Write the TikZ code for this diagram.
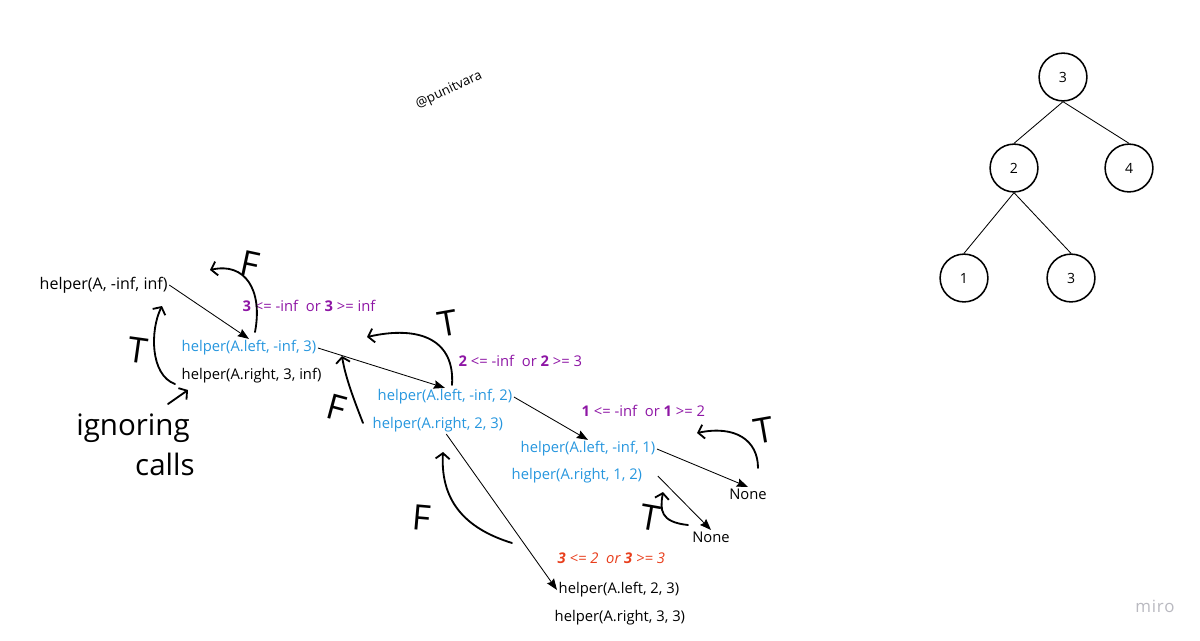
\documentclass[tikz,border=0pt]{standalone}
\usepackage{fontspec}
\setmainfont{Open Sans}
\usepackage{xcolor}
\usepackage{tikz}
\usetikzlibrary{arrows.meta, positioning}

\definecolor{condpurple}{RGB}{142,22,165}
\definecolor{callblue}{RGB}{38,150,222}
\definecolor{condred}{RGB}{232,62,28}
\definecolor{mirogray}{RGB}{185,185,192}

\begin{document}
\begin{tikzpicture}[
  x=0.025cm, y=-0.025cm,
  call/.style={font=\fontsize{10.5}{12}\selectfont, inner sep=1pt, anchor=west},
  leftcall/.style={call, text=callblue},
  cond/.style={call, text=condpurple},
  endcall/.style={font=\fontsize{10.5}{12}\selectfont, inner sep=1pt},
  link/.style={-{Stealth[length=8pt, width=6pt, inset=1pt]}, line width=0.6pt},
  hand/.style={line width=1.3pt, line cap=round, line join=round},
  handarrow/.style={hand, -{Straight Barb[length=4pt, width=10pt]}},
  handtext/.style={font=\fontsize{25}{25}\selectfont, inner sep=0pt},
  tnode/.style={circle, draw, line width=1.1pt, minimum size=34pt, inner sep=0pt, font=\fontsize{10}{12}\selectfont}
]
  \useasboundingbox (0,0) rectangle (1200,640);

  % Tag
  \node[font=\fontsize{9.5}{11}\selectfont, rotate=25] (tag) at (449,90) {@punitvara};

  % Calls, level by level
  \node[call, font=\fontsize{11.4}{13}\selectfont] (root) at (38,285) {helper(A, -inf, inf)};
  \node[cond] (c3) at (241,306) {\textbf{3} <= -inf\ \ or \textbf{3} >= inf};
  \node[leftcall] (lft3) at (180,348) {helper(A.left, -inf, 3)};
  \node[call] (rgt3) at (180,376) {helper(A.right, 3, inf)};

  \node[cond] (c2) at (457,361) {\textbf{2} <= -inf\ \ or \textbf{2} >= 3};
  \node[leftcall] (lft2) at (376,397) {helper(A.left, -inf, 2)};
  \node[leftcall] (rgt2) at (371,425) {helper(A.right, 2, 3)};

  \node[cond] (c1) at (580,411) {\textbf{1} <= -inf\ \ or \textbf{1} >= 2};
  \node[leftcall] (lft1) at (519,449) {helper(A.left, -inf, 1)};
  \node[leftcall] (rgt1) at (510,476) {helper(A.right, 1, 2)};
  \node[endcall] (none1) at (748,494) {None};
  \node[endcall] (none2) at (711,537) {None};

  \node[cond, text=condred, font=\fontsize{10.5}{12}\selectfont\itshape] (c0) at (556,558) {\textbf{3} <= 2\ \ or \textbf{3} >= 3};
  \node[call] (lft0) at (557,590) {helper(A.left, 2, 3)};
  \node[call] (rgt0) at (553,618) {helper(A.right, 3, 3)};

  % Recursion arrows
  \draw[link] (root.east) -- (lft3.north);
  \draw[link] (lft3.east) -- (lft2.north);
  \draw[link] (lft2.east) -- (lft1.north);
  \draw[link] (lft1.east) -- (none1.north);
  \draw[link] ([xshift=10pt]rgt1.east) -- (none2.north);
  \draw[link] ([xshift=6pt]rgt2.south) -- (lft0.west);

  % Hand notes
  \node[handtext, rotate=-12] (f1) at (250,264) {F};
  \draw[handarrow] (255,332) .. controls (263,290) and (245,262) .. (210,270);
  \node[handtext, rotate=-8] (t1) at (138,350) {T};
  \draw[handarrow] (175,384) .. controls (150,375) and (150,330) .. (162,306);
  \node[handtext, font=\fontsize{21}{21}\selectfont] (ign) at (133,428) {ignoring};
  \node[handtext, font=\fontsize{21}{21}\selectfont] (cls) at (165,464) {calls};
  \draw[handarrow] (168,404) -- (188,390);

  \node[handtext, rotate=10] (t2) at (448,323) {T};
  \draw[handarrow] (452,385) .. controls (455,340) and (420,325) .. (367,337);
  \node[handtext, rotate=-15] (f2) at (337,408) {F};
  \draw[handarrow] (363,423) .. controls (352,395) and (345,375) .. (342,356);

  \node[handtext, rotate=-5] (f3) at (422,518) {F};
  \draw[handarrow] (512,543) .. controls (470,530) and (440,505) .. (443,452);

  \node[handtext, rotate=10] (t3) at (764,430) {T};
  \draw[handarrow] (758,468) .. controls (758,440) and (735,425) .. (697,433);
  \node[handtext, rotate=-10] (t4) at (650,518) {T};
  \draw[handarrow] (688,525) .. controls (660,522) and (660,510) .. (663,492);

  % Tree
  \node[tnode] (n3) at (1063,77) {3};
  \node[tnode] (n2) at (1014,168) {2};
  \node[tnode] (n4) at (1129,168) {4};
  \node[tnode] (n1) at (964,278) {1};
  \node[tnode] (n3b) at (1071,278) {3};
  \draw[line width=0.6pt] (n3.south) -- (n2.north);
  \draw[line width=0.6pt] (n3.south) -- (n4.north);
  \draw[line width=0.6pt] (n2.south) -- (n1.north);
  \draw[line width=0.6pt] (n2.south) -- (n3b.north);

  % Watermark
  \node[font=\fontsize{12}{14}\selectfont, text=mirogray] (miro) at (1155,606) {m\kern0.5pt i\kern0.5pt r\kern0.5pt o};

\end{tikzpicture}
\end{document}
